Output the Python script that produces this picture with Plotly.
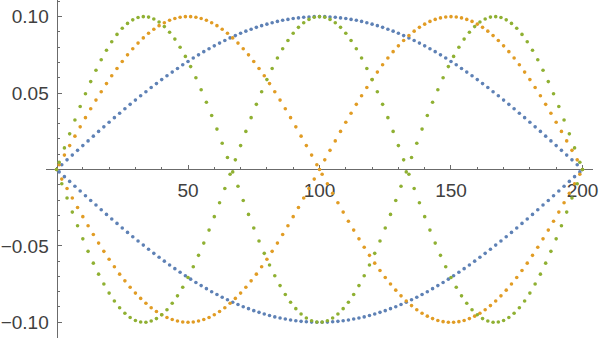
import plotly.graph_objects as go

# sample index (implicit x of the list plot)
x_index = list(range(0, 201))

blue_vals = [
    0, -.0016, .0031, -.0047, .0063, -.0078, .0094, -.0110, .0125, -.0141,
    .0156, -.0172, .0187, -.0203, .0218, -.0233, .0249, -.0264, .0279, -.0294,
    .0309, -.0324, .0339, -.0353, .0368, -.0383, .0397, -.0412, .0426, -.0440,
    .0454, -.0468, .0482, -.0495, .0509, -.0522, .0536, -.0549, .0562, -.0575,
    .0588, -.0600, .0613, -.0625, .0637, -.0649, .0661, -.0673, .0685, -.0696,
    .0707, -.0718, .0729, -.0740, .0750, -.0760, .0771, -.0780, .0790, -.0800,
    .0809, -.0818, .0827, -.0836, .0844, -.0853, .0861, -.0869, .0876, -.0884,
    .0891, -.0898, .0905, -.0911, .0918, -.0924, .0930, -.0935, .0941, -.0946,
    .0951, -.0956, .0960, -.0965, .0969, -.0972, .0976, -.0979, .0982, -.0985,
    .0988, -.0990, .0992, -.0994, .0996, -.0997, .0998, -.0999, .1000, -.1000,
    .1000,
    -.1000, .1000, -.0999, .0998, -.0997, .0996, -.0994, .0992, -.0990, .0988,
    -.0985, .0982, -.0979, .0976, -.0972, .0969, -.0965, .0960, -.0956, .0951,
    -.0946, .0941, -.0935, .0930, -.0924, .0918, -.0911, .0905, -.0898, .0891,
    -.0884, .0876, -.0869, .0861, -.0853, .0844, -.0836, .0827, -.0818, .0809,
    -.0800, .0790, -.0780, .0771, -.0760, .0750, -.0740, .0729, -.0718, .0707,
    -.0696, .0685, -.0673, .0661, -.0649, .0637, -.0625, .0613, -.0600, .0588,
    -.0575, .0562, -.0549, .0536, -.0522, .0509, -.0495, .0482, -.0468, .0454,
    -.0440, .0426, -.0412, .0397, -.0383, .0368, -.0353, .0339, -.0324, .0309,
    -.0294, .0279, -.0264, .0249, -.0233, .0218, -.0203, .0187, -.0172, .0156,
    -.0141, .0125, -.0110, .0094, -.0078, .0063, -.0047, .0031, -.0016, 0,
]

orange_vals = [
    0, .0031, -.0063, .0094, -.0125, .0156, -.0187, .0218, -.0249, .0279,
    -.0309, .0339, -.0368, .0397, -.0426, .0454, -.0482, .0509, -.0536, .0562,
    -.0588, .0613, -.0637, .0661, -.0685, .0707, -.0729, .0750, -.0771, .0790,
    -.0809, .0827, -.0844, .0861, -.0876, .0891, -.0905, .0918, -.0930, .0941,
    -.0951, .0960, -.0969, .0976, -.0982, .0988, -.0992, .0996, -.0998, .1000,
    -.1000, .1000, -.0998, .0996, -.0992, .0988, -.0982, .0976, -.0969, .0960,
    -.0951, .0941, -.0930, .0918, -.0905, .0891, -.0876, .0861, -.0844, .0827,
    -.0809, .0790, -.0771, .0750, -.0729, .0707, -.0685, .0661, -.0637, .0613,
    -.0588, .0562, -.0536, .0509, -.0482, .0454, -.0426, .0397, -.0368, .0339,
    -.0309, .0279, -.0249, .0218, -.0187, .0156, -.0125, .0094, -.0063, .0031,
    0,
    -.0031, .0063, -.0094, .0125, -.0156, .0187, -.0218, .0249, -.0279, .0309,
    -.0339, .0368, -.0397, .0426, -.0454, .0482, -.0509, .0536, -.0562, .0588,
    -.0613, .0637, -.0661, .0685, -.0707, .0729, -.0750, .0771, -.0790, .0809,
    -.0827, .0844, -.0861, .0876, -.0891, .0905, -.0918, .0930, -.0941, .0951,
    -.0960, .0969, -.0976, .0982, -.0988, .0992, -.0996, .0998, -.1000, .1000,
    -.1000, .0998, -.0996, .0992, -.0988, .0982, -.0976, .0969, -.0960, .0951,
    -.0941, .0930, -.0918, .0905, -.0891, .0876, -.0861, .0844, -.0827, .0809,
    -.0790, .0771, -.0750, .0729, -.0707, .0685, -.0661, .0637, -.0613, .0588,
    -.0562, .0536, -.0509, .0482, -.0454, .0426, -.0397, .0368, -.0339, .0309,
    -.0279, .0249, -.0218, .0187, -.0156, .0125, -.0094, .0063, -.0031, 0,
]

green_vals = [
    0, .0047, -.0094, .0141, -.0187, .0233, -.0279, .0324, -.0368, .0412,
    -.0454, .0495, -.0536, .0575, -.0613, .0649, -.0685, .0718, -.0750, .0780,
    -.0809, .0836, -.0861, .0884, -.0905, .0924, -.0941, .0956, -.0969, .0979,
    -.0988, .0994, -.0998, .1000, -.1000, .0997, -.0992, .0985, -.0976, .0965,
    -.0951, .0935, -.0918, .0898, -.0876, .0853, -.0827, .0800, -.0771, .0740,
    -.0707, .0673, -.0637, .0600, -.0562, .0522, -.0482, .0440, -.0397, .0353,
    -.0309, .0264, -.0218, .0172, -.0125, .0078, -.0031, -.0016, .0063, -.0110,
    .0156, -.0203, .0249, -.0294, .0339, -.0383, .0426, -.0468, .0509, -.0549,
    .0588, -.0625, .0661, -.0696, .0729, -.0760, .0790, -.0818, .0844, -.0869,
    .0891, -.0911, .0930, -.0946, .0960, -.0972, .0982, -.0990, .0996, -.0999,
    .1000,
    -.0999, .0996, -.0990, .0982, -.0972, .0960, -.0946, .0930, -.0911, .0891,
    -.0869, .0844, -.0818, .0790, -.0760, .0729, -.0696, .0661, -.0625, .0588,
    -.0549, .0509, -.0468, .0426, -.0383, .0339, -.0294, .0249, -.0203, .0156,
    -.0110, .0063, -.0016, -.0031, .0078, -.0125, .0172, -.0218, .0264, -.0309,
    .0353, -.0397, .0440, -.0482, .0522, -.0562, .0600, -.0637, .0673, -.0707,
    .0740, -.0771, .0800, -.0827, .0853, -.0876, .0898, -.0918, .0935, -.0951,
    .0965, -.0976, .0985, -.0992, .0997, -.1000, .1000, -.0998, .0994, -.0988,
    .0979, -.0969, .0956, -.0941, .0924, -.0905, .0884, -.0861, .0836, -.0809,
    .0780, -.0750, .0718, -.0685, .0649, -.0613, .0575, -.0536, .0495, -.0454,
    .0412, -.0368, .0324, -.0279, .0233, -.0187, .0141, -.0094, .0047, 0,
]

x_ticks = [50, 100, 150, 200]
x_tick_labels = ["50", "100", "150", "200"]
y_ticks = [-0.10, -0.05, 0.05, 0.10]
y_tick_labels = ["\u22120.10", "\u22120.05", "0.05", "0.10"]

assert len(blue_vals) == len(orange_vals) == len(green_vals) == len(x_index)

series = [
    (blue_vals, "#5E81B5"),
    (orange_vals, "#E19C24"),
    (green_vals, "#8FB032"),
]

fig = go.Figure()
for vals, col in series:
    fig.add_trace(go.Scatter(
        x=x_index, y=vals, mode="markers",
        marker=dict(size=3.6, color=col, line=dict(width=0)),
        showlegend=False, hoverinfo="skip",
    ))

X_RANGE = [-4, 204]
Y_RANGE = [-0.1103, 0.1109]
axis_col = "#6b6b6b"
font_col = "#404040"
font_fam = "Liberation Sans, Arial, Helvetica, sans-serif"

x_pos = (0 - Y_RANGE[0]) / (Y_RANGE[1] - Y_RANGE[0])
y_pos = (0 - X_RANGE[0]) / (X_RANGE[1] - X_RANGE[0])

fig.update_layout(
    width=600, height=342,
    margin=dict(l=46, r=7, t=0, b=4, pad=0),
    paper_bgcolor="white", plot_bgcolor="white",
    font=dict(family=font_fam, size=19, color=font_col),
    xaxis=dict(
        range=X_RANGE, anchor="free", position=x_pos,
        showgrid=False, zeroline=False, showline=True,
        linecolor=axis_col, linewidth=1, layer="below traces",
        tickmode="array", tickvals=x_ticks, ticktext=x_tick_labels,
        ticks="inside", ticklen=4.5, tickwidth=1, tickcolor=axis_col,
        ticklabelstandoff=4,
        minor=dict(tick0=0, dtick=10, ticks="inside", ticklen=2.7,
                   tickwidth=1, tickcolor=axis_col, showgrid=False),
        tickfont=dict(family=font_fam, size=19, color=font_col),
    ),
    yaxis=dict(
        range=Y_RANGE, anchor="free", position=y_pos,
        showgrid=False, zeroline=False, showline=True,
        linecolor=axis_col, linewidth=1, layer="below traces",
        tickmode="array", tickvals=y_ticks, ticktext=y_tick_labels,
        ticks="inside", ticklen=4.5, tickwidth=1, tickcolor=axis_col,
        ticklabelstandoff=4,
        minor=dict(tick0=0, dtick=0.01, ticks="inside", ticklen=2.7,
                   tickwidth=1, tickcolor=axis_col, showgrid=False),
        tickfont=dict(family=font_fam, size=19, color=font_col),
    ),
)

fig.write_html("out.html")
